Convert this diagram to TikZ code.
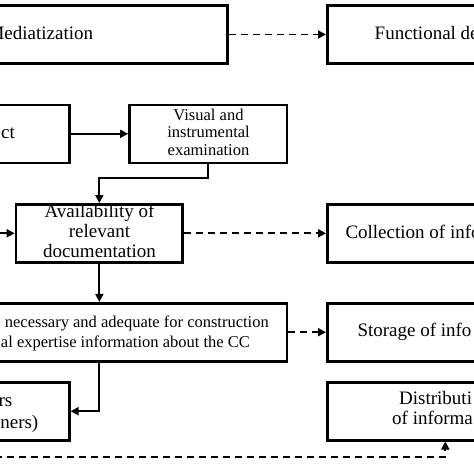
\documentclass[tikz,border=0pt]{standalone}
\usepackage{fontspec}
\setmainfont{Liberation Serif}
\usetikzlibrary{arrows.meta}
\begin{document}
\begin{tikzpicture}[x=1pt,y=-1pt,
  box/.style={draw, line width=2.6pt, inner sep=0pt, minimum height=58pt},
  bigtxt/.style={inner sep=0pt, font=\fontsize{19}{20}\selectfont},
  smalltxt/.style={inner sep=0pt, font=\fontsize{16.5}{17.5}\selectfont},
  conn/.style={line width=1.8pt, -{Triangle[length=8pt,width=8pt]}},
  dconn/.style={conn, dash pattern=on 7pt off 5pt},
]
\useasboundingbox (0,0) rectangle (474,474);
\fill[white] (0,0) rectangle (474,474);
\clip (0,0) rectangle (474,474);

% boxes
\node[box, minimum width=347.7pt] (med)  at (53.85,34.5) {};
\node[box, minimum width=292.7pt] (func) at (473.65,34.5) {};
\node[box, minimum width=189.5pt] (obj)  at (-25.25,133.8) {};
\node[box, minimum width=157.5pt] (vis)  at (208.25,133.8) {};
\node[box, minimum width=166.7pt] (avail) at (99.35,233.3) {};
\node[box, minimum width=292.7pt] (coll) at (473.65,233.3) {};
\node[box, minimum width=487pt]   (info) at (43.5,332.2) {};
\node[box, minimum width=292.7pt] (stor) at (473.65,332.2) {};
\node[box, minimum width=189.3pt] (cust) at (-25.35,411.2) {};
\node[box, minimum width=292.7pt] (dist) at (473.65,411.2) {};

% texts
\node[bigtxt, anchor=base west] (tmed) at (-12.6,39.5) {Mediatization};
\node[bigtxt, anchor=base west] (tfunc) at (374.5,39.5) {Functional de};
\node[bigtxt, anchor=base west] (tobj) at (1,138.3) {ct};
\node[smalltxt, anchor=base] (tvis1) at (208.5,120) {Visual and};
\node[smalltxt, anchor=base] (tvis2) at (208.5,137.7) {instrumental};
\node[smalltxt, anchor=base] (tvis3) at (208.5,155.2) {examination};
\node[bigtxt, anchor=base] (tav1) at (99.5,217.3) {Availability of};
\node[bigtxt, anchor=base] (tav2) at (99.5,237.3) {relevant};
\node[bigtxt, anchor=base] (tav3) at (99.5,257.3) {documentation};
\node[bigtxt, anchor=base west] (tcoll) at (345.3,238.3) {Collection of info};
\node[smalltxt, anchor=base east] (tinfo1) at (269,327.3) {necessary and adequate for construction};
\node[smalltxt, anchor=base east] (tinfo2) at (250,347.3) {al expertise information about the CC};
\node[bigtxt, anchor=base west] (tstor) at (357.3,336.7) {Storage of info};
\node[bigtxt, anchor=base east] (tcust1) at (12.5,406) {rs};
\node[bigtxt, anchor=base east] (tcust2) at (38.5,428) {ners)};
\node[bigtxt, anchor=base west] (tdist1) at (399,404.5) {Distributi};
\node[bigtxt, anchor=base west] (tdist2) at (392,424.3) {of informa};

% helper coordinates
\coordinate (b1) at (208.25,178.3);
\coordinate (lin) at (-5,233.3);
\coordinate (b2) at (99.35,411.2);
\coordinate (lin2) at (-5,456.7);
\coordinate (b3) at (445.3,456.7);

% connectors
\draw[dconn] (med.east) -- (func.west);
\draw[conn] (obj.east) -- (vis.west);
\draw[conn] (vis.south) -- (b1) -| (avail.north);
\draw[conn] (lin) -- (avail.west);
\draw[dconn] (avail.east) -- (coll.west);
\draw[conn] (avail.south) -- (avail.south |- info.north);
\draw[dconn] (info.east) -- (stor.west);
\draw[conn] (avail.south |- info.south) -- (b2) -- (cust.east);
\draw[dconn] (lin2) -- (b3) -- (b3 |- dist.south);
\end{tikzpicture}
\end{document}
